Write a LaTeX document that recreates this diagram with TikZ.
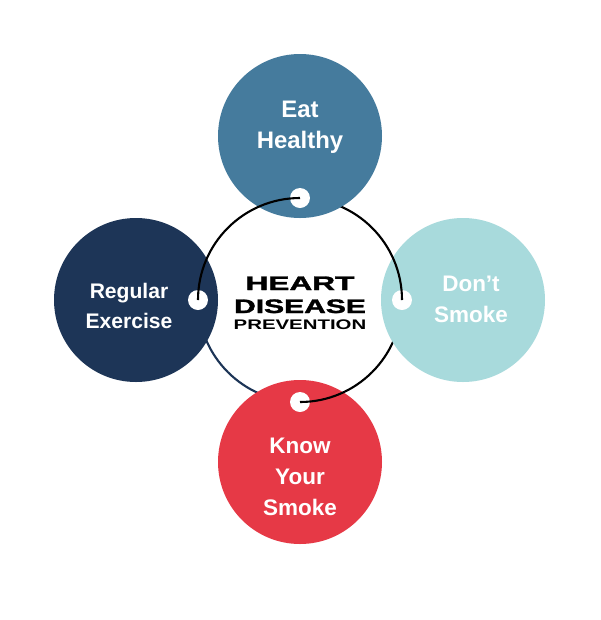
\documentclass[tikz,border=0pt]{standalone}
\usepackage{fontspec}
\setmainfont{Liberation Sans}
\newfontfamily\heavyfont[FakeBold=1.5]{Liberation Sans Bold}
\definecolor{eatblue}{RGB}{69,123,157}
\definecolor{navy}{RGB}{29,53,87}
\definecolor{paleblue}{RGB}{168,218,220}
\definecolor{heartred}{RGB}{230,57,70}
\begin{document}
\begin{tikzpicture}[x=0.02cm, y=0.02cm]
	\tikzstyle{every node}+=[inner sep=0pt]
	\tikzstyle{hole}=[circle, fill=white, minimum size=0.4cm]
	\tikzstyle{topic}=[white, align=center, font=\bfseries\fontsize{12.8}{17.6}\selectfont]
	\tikzstyle{ring}=[line width=1.2pt]
	\fill [white] (0,0) rectangle (600,-620);
	\useasboundingbox (0,0) rectangle (600,-620);
	% where the ring meets the four bubbles
	\coordinate (pT) at (300,-198);
	\coordinate (pR) at (402,-300);
	\coordinate (pB) at (300,-402);
	\coordinate (pL) at (198,-300);
	% ring, left to bottom (under both bubbles)
	\draw [ring, navy] (pL) arc [start angle=180, end angle=270, radius=102];
	\fill [navy] (136,-300) circle (82);
	\node [hole] (dL) at (pL) {};
	\fill [heartred] (300,-462) circle (82);
	\node [hole] (dB) at (pB) {};
	\draw [ring, black] (dB.center) arc [start angle=270, end angle=360, radius=102];
	\fill [paleblue] (463,-300) circle (82);
	\node [hole] (dR) at (pR) {};
	\draw [ring, black] (dR.center) arc [start angle=0, end angle=90, radius=102];
	\fill [eatblue] (300,-136) circle (82);
	\node [hole] (dT) at (pT) {};
	\draw [ring, black] (dT.center) arc [start angle=90, end angle=180, radius=102];
	% labels
	\node [topic, font=\bfseries\fontsize{13.6}{17.6}\selectfont] (eat) at (300,-127) {Eat\\Healthy};
	\node [topic, font=\bfseries\fontsize{12}{17.2}\selectfont] (exercise) at (129,-306) {Regular\\Exercise};
	\node [topic] (smoke) at (471,-299) {Don’t\\Smoke};
	\node [topic] (know) at (300,-477) {Know\\Your\\Smoke};
	% centre title
	\node [anchor=base, font=\heavyfont\fontsize{11.1}{12}\selectfont] (heart) at (300,-290) {\scalebox{1.62}[1]{HEART}};
	\node [anchor=base, font=\heavyfont\fontsize{11.1}{12}\selectfont] (disease) at (300,-313) {\scalebox{1.54}[1]{DISEASE}};
	\node [anchor=base, font=\bfseries\fontsize{7.9}{9}\selectfont] (prevent) at (300,-329) {\scalebox{1.47}[1]{PREVENTION}};
\end{tikzpicture}
\end{document}
